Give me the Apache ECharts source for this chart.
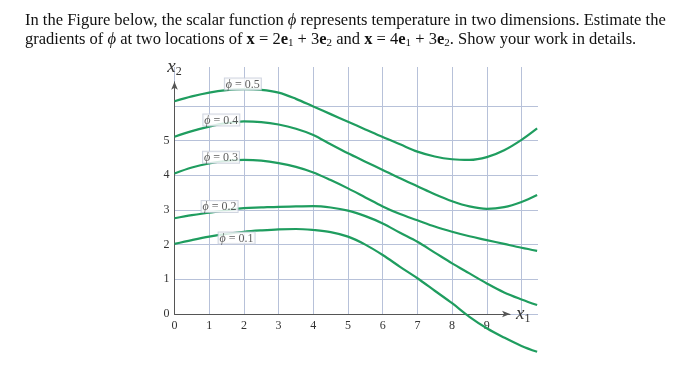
<!DOCTYPE html>
<html>
<head>
<meta charset="utf-8">
<script src="https://cdn.jsdelivr.net/npm/echarts@6/dist/echarts.min.js"></script>
<style>
html,body{margin:0;padding:0;background:#fff;}
#chart{width:700px;height:373px;}
</style>
</head>
<body>
<div id="chart"></div>
<script>
// ---- data ----
const xs = [0, 0.5, 1, 1.5, 2, 2.5, 3, 3.5, 4, 4.5, 5, 5.5, 6, 6.5, 7, 7.5, 8, 8.5, 9, 9.5, 10, 10.45];
const phi05 = [6.13, 6.27, 6.38, 6.45, 6.48, 6.46, 6.38, 6.20, 5.98, 5.76, 5.54, 5.32, 5.10, 4.89, 4.68, 4.54, 4.46, 4.44, 4.52, 4.72, 5.02, 5.35];
const phi04 = [5.11, 5.27, 5.40, 5.50, 5.55, 5.53, 5.46, 5.34, 5.16, 4.89, 4.63, 4.39, 4.15, 3.91, 3.68, 3.45, 3.25, 3.10, 3.03, 3.08, 3.23, 3.43];
const phi03 = [4.05, 4.22, 4.34, 4.41, 4.44, 4.42, 4.35, 4.24, 4.08, 3.86, 3.62, 3.36, 3.10, 2.88, 2.70, 2.52, 2.37, 2.24, 2.13, 2.02, 1.91, 1.82];
const phi02 = [2.76, 2.85, 2.92, 2.99, 3.05, 3.07, 3.09, 3.10, 3.11, 3.07, 2.98, 2.82, 2.61, 2.34, 2.08, 1.77, 1.46, 1.17, 0.88, 0.62, 0.42, 0.26];
const phi01 = [2.02, 2.13, 2.23, 2.31, 2.37, 2.41, 2.44, 2.45, 2.42, 2.36, 2.23, 2.00, 1.70, 1.36, 1.03, 0.67, 0.31, -0.08, -0.41, -0.68, -0.92, -1.09];
const curveNames = ['0.5', '0.4', '0.3', '0.2', '0.1'];
const curves = [phi05, phi04, phi03, phi02, phi01];
const labelX = [1.97, 1.35, 1.34, 1.30, 1.79];
const labelY = [6.63, 5.59, 4.52, 3.10, 2.19];
const xTickLabels = [0, 1, 2, 3, 4, 5, 6, 7, 8, 9];
const yTickLabels = [0, 1, 2, 3, 4, 5];

// ---- layout ----
const U = 34.7;          // px per unit
const X0 = 174.5, Y0 = 314;
const gridColor = '#b7c1d9';
const green = '#1f9d5f';
const serif = '"Liberation Serif", "DejaVu Serif", serif';

const chart = echarts.init(document.getElementById('chart'), null, {renderer: 'canvas'});

function g(w, h) {
  return {left: X0, top: Y0 - h * U, width: w * U, height: h * U, containLabel: false, outerBoundsMode: 'none'};
}
// grid 0: vertical grid lines ; grid 1: curves + horizontal grid lines ; grid 2: arrowed axes
const grids = [g(10, 7.118), g(10.4755, 6), g(9.67, 6.69)];

const hidden = {axisLine: {show: false}, axisTick: {show: false}, axisLabel: {show: false}, splitLine: {show: false}};
const axisNameRich = () => ({rich: {
  a: {fontFamily: serif, fontStyle: 'italic', fontSize: 19, color: '#333'},
  b: {fontFamily: serif, fontSize: 12, color: '#333', padding: [9, 0, 0, 0]}}});

const series = curves.map((ys, i) => ({
  type: 'line', name: curveNames[i], xAxisIndex: 1, yAxisIndex: 1,
  data: xs.map((x, j) => [x, ys[j]]),
  smooth: 0.35, showSymbol: false, symbol: 'none', clip: false,
  lineStyle: {color: green, width: 2.2}, z: 5
}));
series.push({
  type: 'scatter', xAxisIndex: 1, yAxisIndex: 1, symbolSize: 0, clip: false, z: 10,
  data: labelX.map((x, i) => ({value: [x, labelY[i]], name: curveNames[i]})),
  label: {
    show: true, position: 'inside',
    formatter: p => '{i|ϕ}{t| = ' + p.name + '}',
    backgroundColor: '#fff', borderColor: '#c4cad8', borderWidth: 1, padding: [0, 1, -1, 1],
    rich: {
      i: {fontFamily: serif, fontStyle: 'italic', fontSize: 12, color: '#333'},
      t: {fontFamily: serif, fontSize: 12, color: '#333'}
    }
  }
});

const option = {
  animation: false,
  backgroundColor: '#fff',
  grid: grids,
  xAxis: [
    Object.assign({type: 'value', gridIndex: 0, min: 0, max: 10, interval: 1}, hidden,
      {splitLine: {show: true, lineStyle: {color: gridColor, width: 1}}}),
    Object.assign({type: 'value', gridIndex: 1, min: 0, max: 10.4755, interval: 1}, hidden),
    {type: 'value', gridIndex: 2, min: 0, max: 9.67, interval: 1,
      axisLine: {show: true, symbol: ['none', 'arrow'], symbolSize: [5, 8], lineStyle: {color: '#555', width: 1}},
      axisTick: {show: false}, splitLine: {show: false},
      axisLabel: {show: true, margin: 6, fontFamily: serif, fontSize: 12, color: '#333',
        formatter: v => xTickLabels.indexOf(v) >= 0 ? String(v) : ''},
      name: '{a|x}{b|1}', nameLocation: 'end', nameGap: 6, nameTextStyle: axisNameRich()}
  ],
  yAxis: [
    Object.assign({type: 'value', gridIndex: 0, min: 0, max: 7.118, interval: 1}, hidden),
    Object.assign({type: 'value', gridIndex: 1, min: 0, max: 6, interval: 1}, hidden,
      {splitLine: {show: true, lineStyle: {color: gridColor, width: 1}}}),
    {type: 'value', gridIndex: 2, min: 0, max: 6.69, interval: 1,
      axisLine: {show: true, symbol: ['none', 'arrow'], symbolSize: [5, 8], lineStyle: {color: '#555', width: 1}},
      axisTick: {show: false}, splitLine: {show: false},
      axisLabel: {show: true, margin: 5, fontFamily: serif, fontSize: 12, color: '#333',
        formatter: v => yTickLabels.indexOf(v) >= 0 ? String(v) : ''},
      name: '{a|x}{b|2}', nameLocation: 'end', nameGap: 4, nameTextStyle: axisNameRich()}
  ],
  graphic: [
    {type: 'text', left: 25, top: 12, style: {
      text: '{t|In the Figure below, the scalar function }{i|ϕ}{t| represents temperature in two dimensions. Estimate the}',
      rich: {t: {fontFamily: serif, fontSize: 16.5, fill: '#111'}, i: {fontFamily: serif, fontStyle: 'italic', fontSize: 16.5, fill: '#111'}}}},
    {type: 'text', left: 25, top: 31, style: {
      text: '{t|gradients of }{i|ϕ}{t| at two locations of }{b|x}{t| = 2}{b|e}{s|1}{t| + 3}{b|e}{s|2}{t| and }{b|x}{t| = 4}{b|e}{s|1}{t| + 3}{b|e}{s|2}{t|. Show your work in details.}',
      rich: {t: {fontFamily: serif, fontSize: 16.5, fill: '#111'},
             i: {fontFamily: serif, fontStyle: 'italic', fontSize: 16.5, fill: '#111'},
             b: {fontFamily: serif, fontWeight: 'bold', fontSize: 16.5, fill: '#111'},
             s: {fontFamily: serif, fontSize: 11, fill: '#111', padding: [7, 0, 0, 0]}}}}
  ],
  series: series
};
chart.setOption(option);
</script>
</body>
</html>
